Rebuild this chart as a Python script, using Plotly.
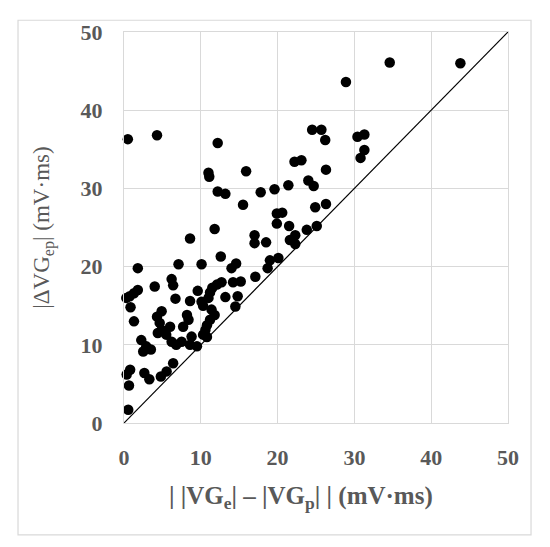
import plotly.graph_objects as go

# |VGe| - |VGp| differences (x) and |ΔVGep| (y), mV·ms
x_vals = [
    0.5, 4.3, 12.2, 24.5, 25.7, 26.2, 11.0, 11.1, 15.9, 22.2,
    23.1, 26.3, 24.0, 24.7, 21.4, 19.6, 17.8, 12.2, 13.2, 15.5,
    26.3, 24.9, 19.9, 20.6, 19.9, 21.5, 25.1, 23.8, 22.3, 11.8,
    17.0, 17.0, 18.5, 8.6, 21.6, 22.3, 34.6, 43.8, 28.9, 30.4,
    31.3, 31.3, 30.8,
    1.8, 7.1, 10.1, 12.6, 14.6, 14.0, 19.0, 20.1, 18.7, 17.1,
    6.2, 6.4, 4.0, 1.8, 1.3, 0.75, 0.3, 0.85, 1.3, 6.7,
    8.6, 9.6, 10.1, 10.3, 11.0, 11.2, 11.5, 12.1, 12.7, 14.2,
    15.2, 13.2, 14.8, 14.5, 11.4, 11.8, 11.2, 10.8, 10.6, 10.3,
    10.8, 8.2, 8.4, 8.8, 8.6, 9.5, 4.9, 4.3, 4.65, 4.9,
    4.4, 6.0, 5.5, 6.2, 6.8, 7.5, 7.7, 2.25, 2.9, 2.5,
    3.5, 0.8, 0.35, 0.65, 0.55, 2.65, 3.3, 4.8, 5.55, 6.4,
]
y_vals = [
    36.3, 36.8, 35.8, 37.5, 37.5, 36.2, 32.0, 31.5, 32.2, 33.4,
    33.6, 32.4, 31.0, 30.3, 30.4, 29.9, 29.5, 29.6, 29.3, 27.9,
    28.0, 27.6, 26.8, 26.9, 25.5, 25.2, 25.2, 24.7, 24.0, 24.8,
    24.0, 23.0, 23.1, 23.6, 23.4, 22.9, 46.1, 46.0, 43.6, 36.6,
    36.9, 34.9, 33.9,
    19.8, 20.3, 20.3, 21.3, 20.4, 19.8, 20.8, 21.1, 19.8, 18.7,
    18.4, 17.6, 17.45, 17.0, 16.6, 16.2, 16.0, 14.8, 13.0, 15.9,
    15.6, 16.9, 15.5, 15.0, 16.0, 16.7, 17.3, 17.7, 18.0, 18.0,
    18.1, 16.1, 16.2, 14.9, 14.5, 13.8, 13.2, 12.5, 11.9, 11.3,
    11.0, 13.8, 13.2, 11.05, 10.0, 9.8, 14.3, 13.6, 12.8, 11.9,
    11.5, 12.3, 11.3, 10.4, 10.0, 10.4, 12.3, 10.6, 9.8, 9.15,
    9.4, 6.8, 6.2, 4.8, 1.7, 6.4, 5.6, 5.95, 6.6, 7.65,
]

# identity reference line y = x
line_x = [0, 50]
line_y = [0, 50]

tick_vals = [0, 10, 20, 30, 40, 50]
tick_text = ["0", "10", "20", "30", "40", "50"]

grid = "#d9d9d9"
txt = "#595959"
serif = "Liberation Serif"

fig = go.Figure()
fig.add_trace(go.Scatter(
    x=line_x, y=line_y, mode="lines",
    line=dict(color="black", width=1.2),
    hoverinfo="skip", showlegend=False,
))
fig.add_trace(go.Scatter(
    x=x_vals, y=y_vals, mode="markers",
    marker=dict(color="black", size=10.5, line=dict(width=0)),
    cliponaxis=False, showlegend=False,
))

axis_common = dict(
    range=[0, 50],
    tickvals=tick_vals, ticktext=tick_text,
    showgrid=True, gridcolor=grid, gridwidth=1.3,
    zeroline=False,
    showline=True, linecolor=grid, linewidth=1.3, mirror=True,
    ticks="",
    tickfont=dict(family=serif, size=22, color=txt, weight="bold"),
    fixedrange=True,
)

fig.update_layout(
    width=550, height=547,
    margin=dict(l=116, r=50, t=24, b=132),
    paper_bgcolor="white", plot_bgcolor="white",
    xaxis=dict(**axis_common, ticklabelstandoff=14),
    yaxis=dict(**axis_common, ticklabelstandoff=16),
    annotations=[
        dict(
            text="| |VG<sub>e</sub>| – |VG<sub>p</sub>| | (mV·ms)",
            xref="paper", yref="paper", x=0.46, y=-0.19,
            xanchor="center", yanchor="middle", showarrow=False,
            font=dict(family=serif, size=25, color=txt, weight="bold"),
        ),
        dict(
            text="|ΔVG<sub>ep</sub>| (mV·ms)",
            xref="paper", yref="paper", x=-0.21, y=0.5,
            xanchor="center", yanchor="middle", showarrow=False, textangle=-90,
            font=dict(family=serif, size=23, color=txt),
        ),
    ],
    shapes=[
        dict(type="rect", xref="paper", yref="paper",
             x0=-0.276, x1=1.06, y0=-0.286, y1=1.03,
             line=dict(color=grid, width=1.2), layer="below"),
    ],
)

fig.write_html("out.html")
